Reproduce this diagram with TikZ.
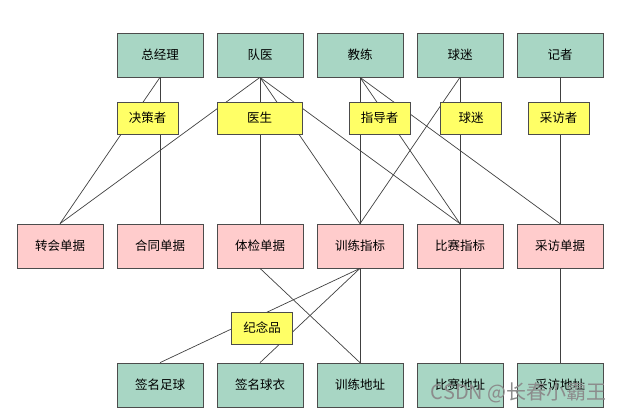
\documentclass[tikz,border=0pt]{standalone}
\usepackage{fontspec}
\setmainfont{Noto Sans CJK SC}
\definecolor{rolegreen}{RGB}{168,214,196}
\definecolor{docpink}{RGB}{255,204,204}
\definecolor{tagyellow}{RGB}{255,255,102}

\begin{document}
\begin{tikzpicture}[
    x=1pt, y=-1pt,
    every node/.style={draw=black!70, line width=0.7pt, inner sep=0pt, font=\fontsize{12.5}{14}\selectfont},
    role/.style={fill=rolegreen, minimum width=86pt, minimum height=44pt},
    doc/.style={fill=docpink, minimum width=86pt, minimum height=44pt},
    tag/.style={fill=tagyellow, minimum width=61pt, minimum height=32pt},
    link/.style={draw=black!75, line width=0.7pt},
  ]
  \useasboundingbox (0,0) rectangle (617,415);
  % roles
  \node[role] (gm) at (160,55) {总经理};
  \node[role] (doctor) at (260,55) {队医};
  \node[role] (coach) at (360,55) {教练};
  \node[role] (fan) at (460,55) {球迷};
  \node[role] (reporter) at (560,55) {记者};
  % documents
  \node[doc] (transfer) at (60,246) {转会单据};
  \node[doc] (contract) at (160,246) {合同单据};
  \node[doc] (medical) at (260,246) {体检单据};
  \node[doc] (training) at (360,246) {训练指标};
  \node[doc] (match) at (460,246) {比赛指标};
  \node[doc] (interview) at (560,246) {采访单据};
  % bottom row
  \node[role] (ball) at (160,385) {签名足球};
  \node[role] (shirt) at (260,385) {签名球衣};
  \node[role] (trainaddr) at (360,385) {训练地址};
  \node[role] (matchaddr) at (460,385) {比赛地址};
  \node[role] (interviewaddr) at (560,385) {采访地址};
  % links
  \foreach \from/\to in {gm/transfer, gm/contract,
      doctor/transfer, doctor/medical, doctor/training, doctor/match,
      coach/training, coach/match, coach/interview,
      fan/training, fan/match, reporter/interview,
      training/ball, training/shirt, training/trainaddr, medical/trainaddr,
      match/matchaddr, interview/interviewaddr}
    \draw[link] (\from.south) -- (\to.north);
  % tags on top of the links
  \node[tag] (decider) at (147.5,118) {决策者};
  \node[tag, minimum width=85pt] (physician) at (259.5,118) {医生};
  \node[tag] (mentor) at (379.5,118) {指导者};
  \node[tag] (supporter) at (471,118) {球迷};
  \node[tag] (visitor) at (558.5,118) {采访者};
  \node[tag] (souvenir) at (262,328) {纪念品};
  % watermark
  \node[draw=none, text=black!45, anchor=east, font=\fontsize{20}{20}\selectfont] (mark) at (607,393) {CSDN @长春小霸王};
\end{tikzpicture}
\end{document}
